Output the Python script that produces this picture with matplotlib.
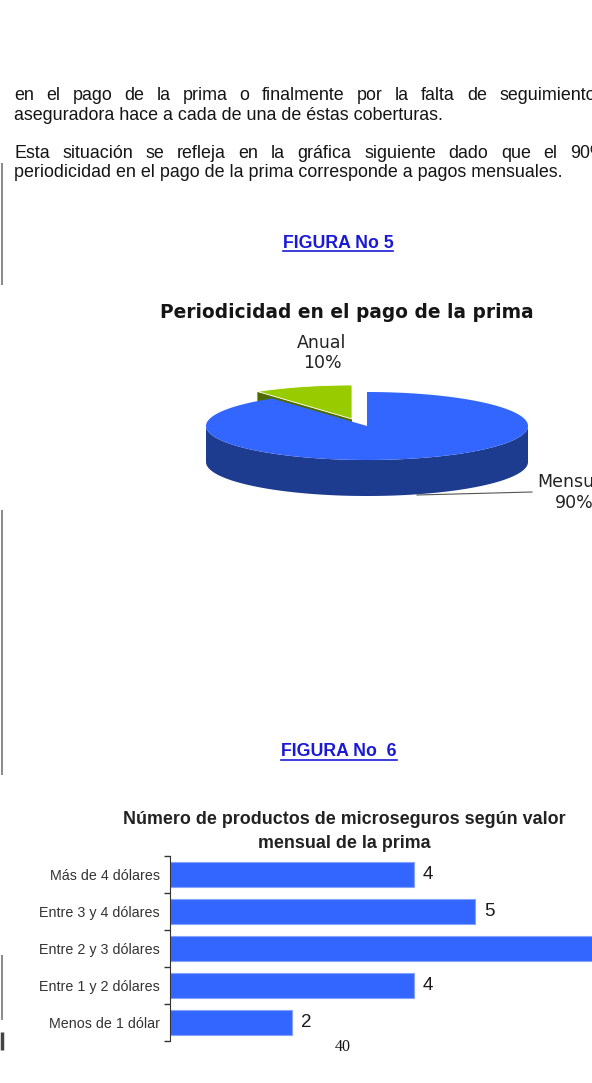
import numpy as np
import matplotlib
matplotlib.use('Agg')
import matplotlib.pyplot as plt
from matplotlib.patches import Polygon

W, H = 592, 1083

# pie data (Figura 5)
pieTitle = 'Periodicidad en el pago de la prima'
pieLabels = ['Anual', 'Mensual']
pieShares = [10, 90]

# bar data (Figura 6)
barTitle = ['Número de productos de microseguros según valor', 'mensual de la prima']
barCategories = ['Menos de 1 dólar', 'Entre 1 y 2 dólares', 'Entre 2 y 3 dólares',
                 'Entre 3 y 4 dólares', 'Más de 4 dólares']
barValues = [2, 4, 7, 5, 4]

# body text of the page
line1 = 'en el pago de la prima o finalmente por la falta de seguimiento'
line2 = 'aseguradora hace a cada de una de éstas coberturas.'
line3 = 'Esta situación se refleja en la gráfica siguiente dado que el 90%'
line4 = 'periodicidad en el pago de la prima corresponde a pagos mensuales.'

BODY_FONT = 'Liberation Sans'
TXT = '#151515'

fig = plt.figure(figsize=(W / 100, H / 100), dpi=100)
page = fig.add_axes([0, 0, 1, 1])
page.set_xlim(0, W)
page.set_ylim(H, 0)
page.axis('off')
renderer = fig.canvas.get_renderer()


def justify(text, y, x0, lastX, size):
    ## place words so the last one starts at lastX
    words = text.split()
    items = [page.text(0, y, w, fontsize=size, family=BODY_FONT, color=TXT, va='baseline')
             for w in words]
    widths = [t.get_window_extent(renderer).width for t in items]
    gap = (lastX - x0 - sum(widths[:-1])) / (len(words) - 1)
    x = x0
    for t, w in zip(items, widths):
        t.set_x(x)
        x = x + w + gap


def underlined(text, x, y, size):
    t = page.text(x, y, text, fontsize=size, family=BODY_FONT, weight='bold',
                  color='#1a1ad6', ha='center', va='center')
    bb = t.get_window_extent(renderer)
    page.plot([x - bb.width / 2, x + bb.width / 2], [y + bb.height / 2 - 1] * 2,
              color='#1a1ad6', lw=1.2)


BODY_SIZE = 12.9
justify(line1, 100, 14, 499, BODY_SIZE)
page.text(14, 120, line2, fontsize=BODY_SIZE, family=BODY_FONT, color=TXT, va='baseline')
justify(line3, 158, 14, 570, BODY_SIZE)
page.text(14, 177, line4, fontsize=BODY_SIZE, family=BODY_FONT, color=TXT, va='baseline')

underlined('FIGURA No 5', 338, 243, 12.8)
underlined('FIGURA No  6', 339, 752, 12.8)

# change bars in the left margin
for y0, y1, lw, col in [(163, 285, 1.2, '#777777'), (510, 775, 1.2, '#777777'),
                        (955, 1020, 1.2, '#777777'), (1032, 1050, 2.5, '#444444')]:
    page.plot([2, 2], [y0, y1], color=col, lw=lw, solid_capstyle='butt')

# ---- 3D pie ----
cx, cy, rx, ry, depth = 367, 426, 161, 34, 36
explode = (-15, -7)
topColors = {'Anual': '#99cc00', 'Mensual': '#3366ff'}
sideColors = {'Anual': '#4f6a00', 'Mensual': '#1d3b8f'}


def rim(t0, t1, dx=0, dy=0, n=200):
    t = np.radians(np.linspace(t0, t1, n))
    return np.column_stack([cx + dx + rx * np.cos(t), cy + dy - ry * np.sin(t)])


fractions = np.array(pieShares) / sum(pieShares)
starts = 90 + 360 * np.concatenate([[0], np.cumsum(fractions)[:-1]])
ends = starts + 360 * fractions

anual = (starts[0], ends[0])
mensual = (starts[1], ends[1])

# anual cut face and top, exploded
dx, dy = explode
edge = rim(anual[1], anual[1], dx, dy, 1)[0]
face = [(cx + dx, cy + dy), tuple(edge), (edge[0], edge[1] + depth), (cx + dx, cy + dy + depth)]
page.add_patch(Polygon(face, closed=True, fc=sideColors['Anual'], ec='none'))
top = np.vstack([[cx + dx, cy + dy], rim(anual[0], anual[1], dx, dy)])
page.add_patch(Polygon(top, closed=True, fc=topColors['Anual'], ec='white', lw=0.6))

# mensual side wall (front half) and top
front0, front1 = max(mensual[0], 180), min(mensual[1], 360)
upper = rim(front0, front1)
lower = rim(front1, front0, 0, depth)
page.add_patch(Polygon(np.vstack([upper, lower]), closed=True, fc=sideColors['Mensual'], ec='none'))
top = np.vstack([[cx, cy], rim(mensual[0], mensual[1], n=400)])
page.add_patch(Polygon(top, closed=True, fc=topColors['Mensual'], ec='none'))

PIE_FONT = 'DejaVu Sans'
page.text(347, 313, pieTitle, fontsize=13.4, family=PIE_FONT, weight='bold',
          color=TXT, ha='center', va='center')
page.text(322, 343, pieLabels[0], fontsize=12.5, family=PIE_FONT, color='#222222', ha='center', va='center')
page.text(322, 363, '%d%%' % pieShares[0], fontsize=12.5, family=PIE_FONT, color='#222222', ha='center', va='center')
page.text(574, 482, pieLabels[1], fontsize=12.5, family=PIE_FONT, color='#222222', ha='center', va='center')
page.text(574, 503, '%d%%' % pieShares[1], fontsize=12.5, family=PIE_FONT, color='#222222', ha='center', va='center')
page.plot([417, 532], [495, 492], color='#555555', lw=0.8)

# ---- bar chart ----
page.text(344, 820, barTitle[0], fontsize=12.9, family=BODY_FONT, weight='bold',
          color='#222222', ha='center', va='center')
page.text(344, 843, barTitle[1], fontsize=12.9, family=BODY_FONT, weight='bold',
          color='#222222', ha='center', va='center')

axLeft, axTop, axBottom, pxPerUnit = 170, 856, 1041, 61
ax = fig.add_axes([axLeft / W, 1 - axBottom / H, (W - axLeft) / W, (axBottom - axTop) / H])
ax.set_xlim(0, (W - axLeft) / pxPerUnit)
ax.set_ylim(-0.5, len(barCategories) - 0.5)
bars = ax.barh(range(len(barCategories)), barValues, height=0.66,
               color='#3366ff', edgecolor='#86a2ff', linewidth=0.8)
ax.bar_label(bars, padding=6.5, fontsize=13.5, family=BODY_FONT, color='#1a1a1a')
ax.set_yticks(range(len(barCategories)))
ax.set_yticklabels(barCategories, family=BODY_FONT, fontsize=10.3, color='#333333')
ax.tick_params(axis='y', which='major', length=0, pad=7.5)
ax.set_yticks(np.arange(-0.5, len(barCategories)), minor=True)
ax.tick_params(axis='y', which='minor', length=4, width=1, color='#333333', direction='out')
ax.xaxis.set_visible(False)
for side in ['top', 'right', 'bottom']:
    ax.spines[side].set_visible(False)
ax.spines['left'].set_color('#333333')
ax.patch.set_alpha(0)

page.text(343, 1047, '40', fontsize=11.5, family='Liberation Serif', color=TXT, ha='center', va='center')

fig.savefig('out.png', dpi=100)
